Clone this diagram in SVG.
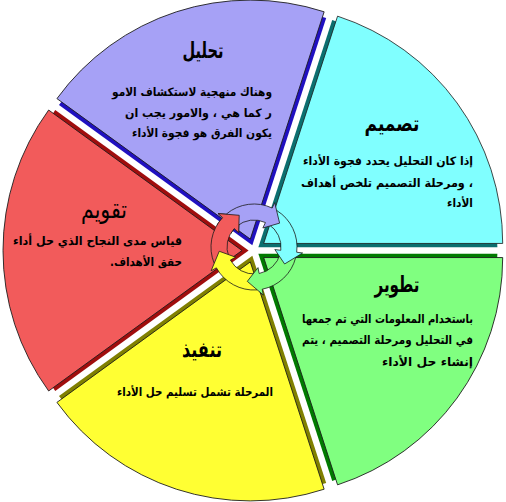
<svg xmlns="http://www.w3.org/2000/svg" xmlns:xlink="http://www.w3.org/1999/xlink" width="506" height="502" viewBox="0 0 506 502">
<style>
.lt{stroke:#1a1a1a;stroke-width:0.8}
.ar{stroke:#1a1a1a;stroke-width:0.8}
.t{font-family:"DejaVu Sans",sans-serif;font-weight:bold;fill:#000}
.h{font-size:22px}
.b{font-size:11.5px}
</style>
<defs>
<path id="w" d="M0 0 L239 0 A239 239 0 0 0 73.86 -227.3 Z"/>
<clipPath id="redhead"><polygon points="254,247 193.38,212 241.84,178.06"/></clipPath>
<path id="redarrow" d="M214.13 263.11 A43 43 0 0 1 222.55 217.67 L218.16 213.58 L239.21 215.28 L238.64 232.68 L234.25 228.59 A27 27 0 0 0 228.97 257.11 Z"/>
</defs>
<rect width="506" height="502" fill="#fff"/>
<g id="seg-tasmim">
<use xlink:href="#w" href="#w" transform="translate(258.37,247.33)" fill="#0b6f6f"/>
<use xlink:href="#w" href="#w" class="lt" transform="translate(263.71,243.45)" fill="#80ffff"/>
</g>
<g id="seg-tahlil">
<use xlink:href="#w" href="#w" transform="translate(252.33,245.36) rotate(-72)" fill="#2010c0"/>
<use xlink:href="#w" href="#w" class="lt" transform="translate(250.29,239.09) rotate(-72)" fill="#a6a1f6"/>
</g>
<g id="seg-taqwim">
<use xlink:href="#w" href="#w" transform="translate(248.6,250.5) rotate(-144)" fill="#a00d0d"/>
<use xlink:href="#w" href="#w" class="lt" transform="translate(242,250.5) rotate(-144)" fill="#f25b5b"/>
</g>
<g id="seg-tanfidh">
<use xlink:href="#w" href="#w" transform="translate(252.33,255.64) rotate(-216)" fill="#808000"/>
<use xlink:href="#w" href="#w" class="lt" transform="translate(250.29,261.91) rotate(-216)" fill="#ffff33"/>
</g>
<g id="seg-tatwir">
<use xlink:href="#w" href="#w" transform="translate(258.37,253.67) rotate(-288)" fill="#007a00"/>
<use xlink:href="#w" href="#w" class="lt" transform="translate(263.71,257.55) rotate(-288)" fill="#80ff80"/>
</g>
<g id="connectors">
<use xlink:href="#redarrow" href="#redarrow" class="ar" fill="#f25b5b"/>
<path class="ar" fill="#ffff33" d="M257.00 289.90 A43 43 0 0 1 216.39 267.85 L211.14 270.76 L219.26 251.27 L235.63 257.18 L230.39 260.09 A27 27 0 0 0 255.88 273.93 Z"/>
<path class="ar" fill="#80ff80" d="M295.72 257.40 A43 43 0 0 1 262.20 289.21 L263.35 295.10 L247.32 281.36 L258.01 267.61 L259.15 273.50 A27 27 0 0 0 280.20 253.53 Z"/>
<path class="ar" fill="#80ffff" d="M276.79 210.53 A43 43 0 0 1 296.68 252.24 L302.63 252.97 L284.61 263.97 L274.84 249.56 L280.80 250.29 A27 27 0 0 0 268.31 224.10 Z"/>
<path class="ar" fill="#a6a1f6" d="M226.36 214.06 A43 43 0 0 1 272.17 208.03 L274.71 202.59 L279.60 223.13 L262.88 227.97 L265.41 222.53 A27 27 0 0 0 236.64 226.32 Z"/>
<use xlink:href="#redarrow" href="#redarrow" class="ar" fill="#f25b5b" clip-path="url(#redhead)"/>
</g>
<g id="txt-tahlil" class="t">
<text class="h" x="203" y="58" text-anchor="middle" textLength="41" lengthAdjust="spacingAndGlyphs">تحليل</text>
<text class="b" x="272" y="96" text-anchor="end" textLength="160" lengthAdjust="spacingAndGlyphs">&#x200F;وهناك منهجية لاستكشاف الامو&#x200F;</text>
<text class="b" x="272" y="117" text-anchor="end" textLength="147" lengthAdjust="spacingAndGlyphs">&#x200F;ر كما هي ، والامور يجب ان&#x200F;</text>
<text class="b" x="272" y="137" text-anchor="end" textLength="140" lengthAdjust="spacingAndGlyphs">&#x200F;يكون الفرق هو فجوة الأداء&#x200F;</text>
</g>
<g id="txt-tasmim" class="t">
<text class="h" x="392" y="131" text-anchor="middle" textLength="55" lengthAdjust="spacingAndGlyphs">تصميم</text>
<text class="b" x="473" y="165" text-anchor="end" textLength="170" lengthAdjust="spacingAndGlyphs">&#x200F;إذا كان التحليل يحدد فجوة الأداء&#x200F;</text>
<text class="b" x="473" y="187" text-anchor="end" textLength="172" lengthAdjust="spacingAndGlyphs">&#x200F;، ومرحلة التصميم تلخص أهداف&#x200F;</text>
<text class="b" x="473" y="207" text-anchor="end" textLength="26" lengthAdjust="spacingAndGlyphs">&#x200F;الأداء&#x200F;</text>
</g>
<g id="txt-tatwir" class="t">
<text class="h" x="397" y="292" text-anchor="middle" textLength="45" lengthAdjust="spacingAndGlyphs">تطوير</text>
<text class="b" x="473" y="323" text-anchor="end" textLength="171" lengthAdjust="spacingAndGlyphs">&#x200F;باستخدام المعلومات التي تم جمعها&#x200F;</text>
<text class="b" x="473" y="344" text-anchor="end" textLength="171" lengthAdjust="spacingAndGlyphs">&#x200F;في التحليل ومرحلة التصميم ، يتم&#x200F;</text>
<text class="b" x="473" y="366" text-anchor="end" textLength="91" lengthAdjust="spacingAndGlyphs">&#x200F;إنشاء حل الأداء&#x200F;</text>
</g>
<g id="txt-tanfidh" class="t">
<text class="h" x="202" y="357" text-anchor="middle" textLength="40" lengthAdjust="spacingAndGlyphs">تنفيذ</text>
<text class="b" x="273" y="396" text-anchor="end" textLength="156" lengthAdjust="spacingAndGlyphs">&#x200F;المرحلة تشمل تسليم حل الأداء&#x200F;</text>
</g>
<g id="txt-taqwim" class="t">
<text x="104" y="218" text-anchor="middle" font-weight="normal" font-size="25" textLength="46" lengthAdjust="spacingAndGlyphs">تقويم</text>
<text class="b" x="182" y="245" text-anchor="end" textLength="169" lengthAdjust="spacingAndGlyphs">&#x200F;قياس مدى النجاح الذي حل أداء&#x200F;</text>
<text class="b" x="182" y="266" text-anchor="end" textLength="72" lengthAdjust="spacingAndGlyphs">&#x200F;حقق الأهداف.&#x200F;</text>
</g>
</svg>
